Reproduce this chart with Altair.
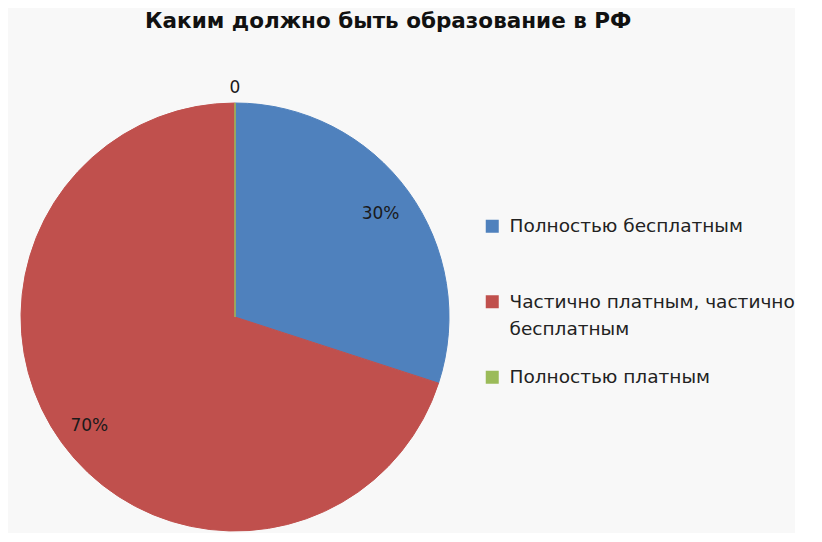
import altair as alt
import pandas as pd

categories = ["Полностью бесплатным", "Частично платным, частично бесплатным", "Полностью платным"]
values = [30, 70, 0]
labels = ["30%", "70%", "0"]
colors = ["#4f81bd", "#c0504d", "#9bbb59"]

df = pd.DataFrame({"cat": categories, "val": values, "lab": labels, "idx": list(range(len(categories)))})

color_scale = alt.Scale(domain=categories, range=colors)

base = alt.Chart(df).encode(
    theta=alt.Theta("val:Q", stack=True),
    order=alt.Order("idx:Q"),
)

pie = base.mark_arc(outerRadius=214, strokeWidth=1).encode(
    color=alt.Color(
        "cat:N",
        scale=color_scale,
        sort=categories,
        legend=alt.Legend(
            title=None,
            orient="none",
            legendX=475,
            legendY=116,
            symbolType="square",
            symbolSize=169,
            symbolStrokeWidth=0,
            labelFontSize=18.5,
            labelFont="DejaVu Sans",
            labelColor="#222222",
            labelLimit=400,
            labelOffset=8,
            rowPadding=29.5,
            labelBaseline="middle",
            labelExpr="indexof(datum.label, 'частично бесплатным') > 0 ? ['Частично платным, частично', 'бесплатным'] : [datum.label, '']",
        ),
    ),
    stroke=alt.Color("cat:N", scale=color_scale, legend=None),
)

text_in = base.transform_filter("datum.val > 0").mark_text(
    fontSize=17, font="DejaVu Sans", color="#1a1a1a", radius=180, dy=3
).encode(text="lab:N")

text_out = base.transform_filter("datum.val == 0").mark_text(
    fontSize=17, font="DejaVu Sans", color="#1a1a1a", radius=229
).encode(text="lab:N")

chart = (
    (pie + text_in + text_out)
    .properties(
        width=454,
        height=432,
        padding={"left": 0, "top": 2, "right": 0, "bottom": 0},
        background="#f8f8f8",
        title=alt.TitleParams(
            "Каким должно быть образование в РФ",
            anchor="start",
            dx=137,
            offset=47,
            fontSize=21.5,
            font="DejaVu Sans",
            fontWeight="bold",
            color="#111111",
        ),
    )
    .configure_view(stroke=None)
    .configure(style={"guide-label": {"lineHeight": 27}})
)

chart.save("out.html", embed_options={"renderer": "svg", "actions": False})
